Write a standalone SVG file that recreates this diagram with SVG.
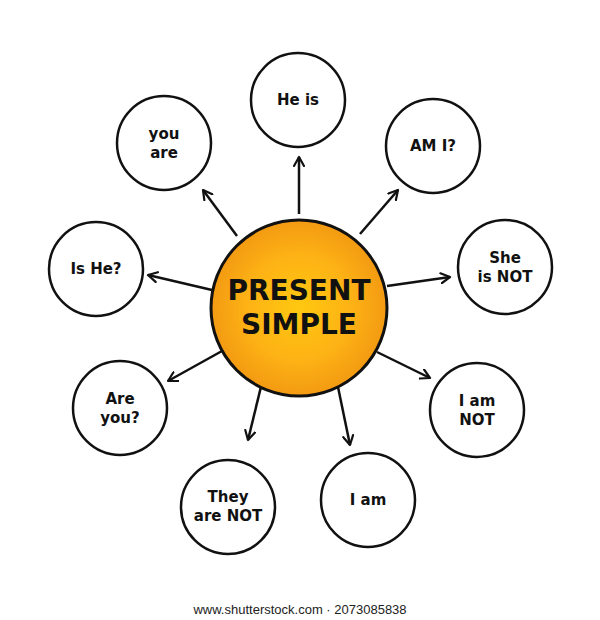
<svg xmlns="http://www.w3.org/2000/svg" width="600" height="620" viewBox="0 0 600 620">
<style>
.node{fill:#fff;stroke:#111;stroke-width:2.5}
.lbl{font-family:"DejaVu Sans",sans-serif;font-weight:bold;font-size:15px;fill:#111;text-anchor:middle;dominant-baseline:central}
.title{font-family:"DejaVu Sans",sans-serif;font-weight:bold;font-size:28px;fill:#111;text-anchor:middle;dominant-baseline:central}
.conn{stroke:#111;stroke-width:2.5;fill:none;marker-end:url(#ah)}
.foot{font-family:"Liberation Sans",sans-serif;font-size:13px;fill:#222;text-anchor:middle}
</style>
<defs>
<radialGradient id="og" cx="50%" cy="50%" r="50%">
<stop offset="0" stop-color="#FFC810"/>
<stop offset="0.6" stop-color="#FDB215"/>
<stop offset="1" stop-color="#F39A12"/>
</radialGradient>
<marker id="ah" viewBox="0 0 12 12" refX="10" refY="6" markerWidth="12" markerHeight="12" markerUnits="userSpaceOnUse" orient="auto">
<path d="M1,1 L10,6 L1,11" fill="none" stroke="#111" stroke-width="2.2" stroke-linejoin="round" stroke-linecap="round"/>
</marker>
</defs>
<rect width="600" height="620" fill="#fff"/>
<g id="connectors">
<line class="conn" x1="299" y1="214" x2="299" y2="157"/>
<line class="conn" x1="237" y1="236" x2="203" y2="190"/>
<line class="conn" x1="360" y1="234" x2="398" y2="190"/>
<line class="conn" x1="212" y1="290" x2="148" y2="275"/>
<line class="conn" x1="387" y1="286" x2="450" y2="277"/>
<line class="conn" x1="222" y1="351" x2="168" y2="381"/>
<line class="conn" x1="377" y1="352" x2="430" y2="378"/>
<line class="conn" x1="268" y1="358" x2="248" y2="440"/>
<line class="conn" x1="332" y1="358" x2="350" y2="445"/>
</g>
<g id="center">
<circle cx="299" cy="308" r="88" fill="url(#og)" stroke="#111" stroke-width="3"/>
<text class="title" x="299" y="290">PRESENT</text>
<text class="title" x="299" y="324">SIMPLE</text>
</g>
<g id="he-is"><circle class="node" cx="298" cy="100" r="47"/><text class="lbl" x="298" y="100">He is</text></g>
<g id="you-are"><circle class="node" cx="164" cy="143" r="47"/><text class="lbl" x="164" y="134">you</text><text class="lbl" x="164" y="153">are</text></g>
<g id="am-i"><circle class="node" cx="433" cy="146" r="47"/><text class="lbl" x="433" y="146">AM I?</text></g>
<g id="is-he"><circle class="node" cx="96" cy="269" r="47"/><text class="lbl" x="96" y="269">Is He?</text></g>
<g id="she-is-not"><circle class="node" cx="505" cy="267" r="47"/><text class="lbl" x="505" y="258">She</text><text class="lbl" x="505" y="277">is NOT</text></g>
<g id="are-you"><circle class="node" cx="120" cy="408" r="47"/><text class="lbl" x="120" y="399">Are</text><text class="lbl" x="120" y="418">you?</text></g>
<g id="i-am-not"><circle class="node" cx="477" cy="410" r="47"/><text class="lbl" x="477" y="401">I am</text><text class="lbl" x="477" y="420">NOT</text></g>
<g id="they-are-not"><circle class="node" cx="228" cy="507" r="47"/><text class="lbl" x="228" y="497">They</text><text class="lbl" x="228" y="516">are NOT</text></g>
<g id="i-am"><circle class="node" cx="368" cy="500" r="47"/><text class="lbl" x="368" y="500">I am</text></g>
<text class="foot" x="300" y="614">www.shutterstock.com · 2073085838</text>
</svg>
